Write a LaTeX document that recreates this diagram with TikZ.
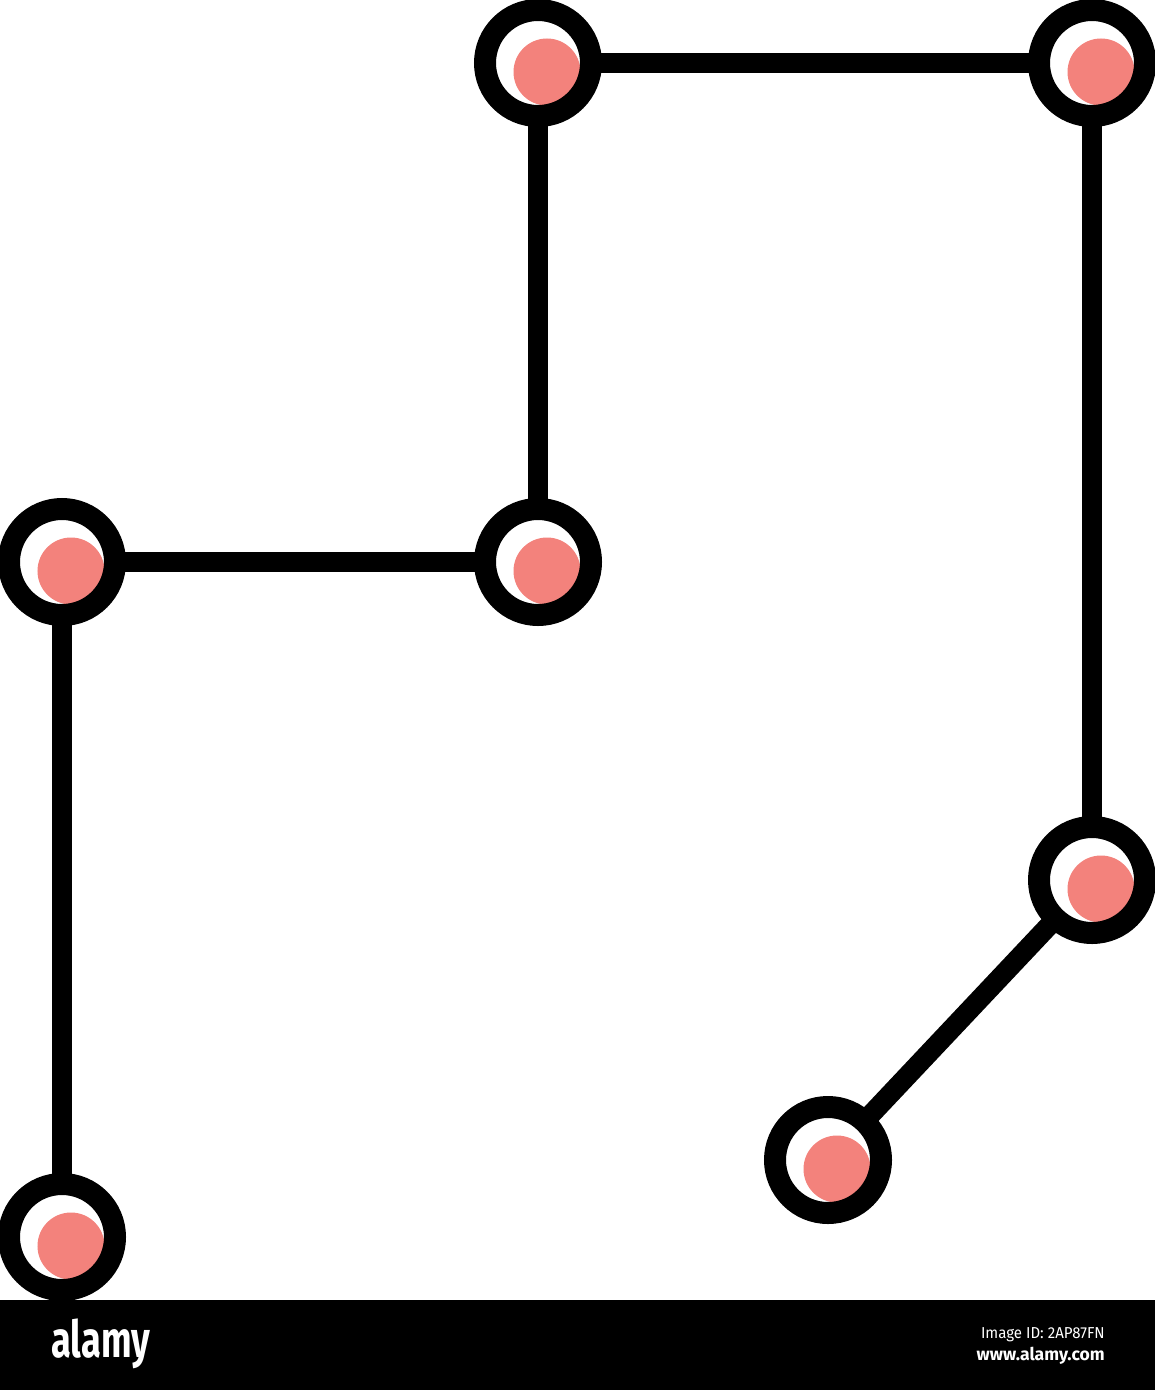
\documentclass[tikz,border=0pt]{standalone}
\usepackage{fontspec}
\setmainfont{Fira Sans}
\usetikzlibrary{positioning}
\definecolor{dotpink}{RGB}{243,130,124}

\tikzset{
	vtx/.style={circle, draw=black, line width=0.44cm, fill=white,
		minimum size=2.12cm, inner sep=0pt,
		path picture={\fill[dotpink] ([shift={(0.18cm,-0.18cm)}]path picture bounding box.center) circle (0.67cm);}},
	wire/.style={line width=0.4cm, shorten <=-2pt, shorten >=-2pt}
}

\begin{document}
\begin{tikzpicture}[on grid]
	\useasboundingbox (0,0) rectangle (23.1,-27.8);
	
	\node[vtx] (a1) at (10.76,-1.26) {};
	\node[vtx, right=11.08cm of a1] (b1) {};
	\node[vtx, below=9.98cm of a1] (a2) {};
	\node[vtx, left=9.52cm of a2] (c2) {};
	\node[vtx, below=13.5cm of c2] (c3) {};
	\node[vtx, below=16.34cm of b1] (b2) {};
	\node[vtx, below left=5.6cm and 5.28cm of b2] (b3) {};
	
	\draw[wire] (a1) -- (b1);
	\draw[wire] (a1) -- (a2);
	\draw[wire] (a2) -- (c2);
	\draw[wire] (c2) -- (c3);
	\draw[wire] (b1) -- (b2);
	\draw[wire] (b2) -- (b3);
	
	\fill[black] (0,-26) rectangle (23.1,-27.8);
	\node[anchor=base west, inner sep=0pt, white, font=\bfseries\fontsize{29}{29}\selectfont] (logo) at (1.02,-27.14) {\scalebox{0.71}[1]{alamy}};
	\node[anchor=base east, inner sep=0pt, white, font=\fontsize{9}{9}\selectfont] (imgid) at (22.1,-26.76) {\scalebox{0.95}[1]{Image ID: 2AP87FN}};
	\node[anchor=base east, inner sep=0pt, white, font=\bfseries\fontsize{10}{10}\selectfont] (site) at (22.1,-27.2) {www.alamy.com};
\end{tikzpicture}
\end{document}
